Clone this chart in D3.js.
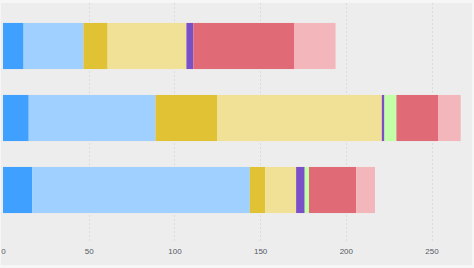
<!DOCTYPE html>
<html>
<head>
<meta charset="utf-8">
<script src="https://cdn.jsdelivr.net/npm/d3@7"></script>
<style>
  html, body { margin: 0; padding: 0; background: #f6f6f6; }
  svg { display: block; font-family: "Open Sans", "Liberation Sans", sans-serif; }
</style>
</head>
<body>
<svg width="474" height="268"></svg>
<script>
// rows from top to bottom
const rows = ["A", "B", "C"];
const seriesNames = ["s1", "s2", "s3", "s4", "s5", "s6", "s7", "s8"];
const colors = ["#40a0ff", "#a0d0ff", "#e0c234", "#f0e196", "#7a50c8", "#c2ffa6", "#e06a76", "#f2b6bb"];

const s1 = [12, 15, 17];
const s2 = [35, 74, 127];
const s3 = [14, 36, 9];
const s4 = [46, 96, 18];
const s5 = [4, 1.5, 5];
const s6 = [0, 7, 2.5];
const s7 = [59, 24.5, 27.5];
const s8 = [24, 13, 11];

const xTicks = [0, 50, 100, 150, 200, 250];
const xMax = 273.6;

const allSeries = [s1, s2, s3, s4, s5, s6, s7, s8];
const table = rows.map((r, i) => {
	let o = { row: r };
	seriesNames.forEach((k, j) => o[k] = allSeries[j][i]);
	return o;
});

let svg = d3.select("svg"),
	width = +svg.attr("width"),
	height = +svg.attr("height");

// plot background
svg.append("rect")
	.attr("x", 1).attr("y", 3)
	.attr("width", 471).attr("height", 262)
	.attr("fill", "#ededed");

let x = d3.scaleLinear().domain([0, xMax]).range([3, 472]);
let y = d3.scaleBand().domain(rows).range([10, 226]).paddingInner(0.36).paddingOuter(0.18);

// dashed grid
svg.append("g")
	.attr("class", "grid")
	.selectAll("line")
	.data(xTicks.filter(d => d > 0))
	.enter().append("line")
		.attr("x1", d => Math.round(x(d)) + 0.5)
		.attr("x2", d => Math.round(x(d)) + 0.5)
		.attr("y1", 3)
		.attr("y2", 242)
		.attr("stroke", "#dcdcdc")
		.attr("stroke-dasharray", "2,2");

let stack = d3.stack().keys(seriesNames)(table);

svg.append("g")
	.selectAll("g")
	.data(stack)
	.enter().append("g")
		.attr("fill", (d, i) => colors[i])
	.selectAll("rect")
	.data(d => d)
	.enter().append("rect")
		.attr("x", d => x(d[0]))
		.attr("y", d => y(d.data.row))
		.attr("width", d => x(d[1]) - x(d[0]))
		.attr("height", y.bandwidth());

let axis = svg.append("g")
	.attr("transform", "translate(0,244)")
	.call(d3.axisBottom(x).tickValues(xTicks).tickSize(0).tickPadding(4));
axis.select(".domain").remove();
axis.selectAll("text")
	.attr("fill", "#555a66")
	.style("font-size", "8px");
</script>
</body>
</html>
